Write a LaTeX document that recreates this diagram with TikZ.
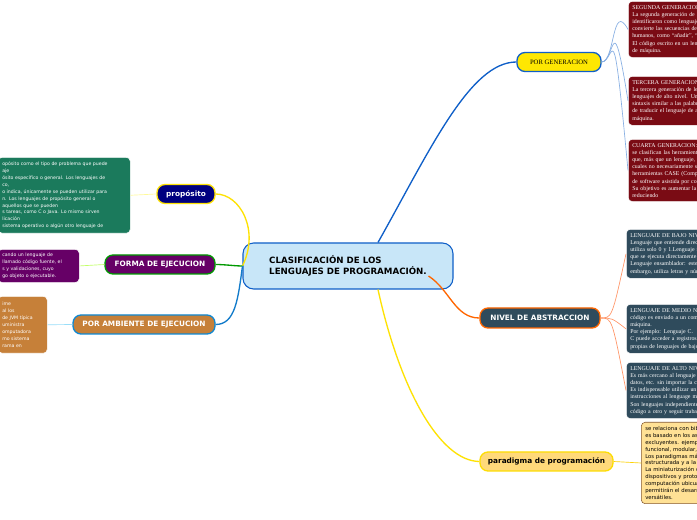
\documentclass[tikz,border=0pt]{standalone}
\usepackage{fontspec}
\setmainfont{Liberation Serif}
\setsansfont{DejaVu Sans}
\begin{document}
\begin{tikzpicture}[x=0.75pt,y=-0.75pt,
 branch/.style={rounded corners=6pt,line width=1pt,font=\sffamily\bfseries\fontsize{5.5}{6.5}\selectfont,align=center},
 leafs/.style={rounded corners=3pt,draw=white,font=\sffamily\fontsize{3.5}{5.2}\selectfont,align=left,anchor=north west,inner sep=3pt,text=white},
 leafr/.style={rounded corners=3pt,draw=white,font=\rmfamily\fontsize{4.4}{5.4}\selectfont,align=left,anchor=north west,inner sep=3pt,text=white,text width=110pt},
 conn/.style={line width=1pt},
 thin/.style={line width=0.5pt}]
\useasboundingbox (0,0) rectangle (697,520);
\clip (0,0) rectangle (697,520);
\fill[white] (0,0) rectangle (697,520);
\definecolor{cblue}{HTML}{0F5FC8}
\definecolor{gen}{HTML}{7A0B14}
\definecolor{slate}{HTML}{2F4B5C}
\definecolor{leafgreen}{HTML}{1B7A5C}
\definecolor{centerfill}{HTML}{C8E6F8}
\definecolor{parfill}{HTML}{FFD97A}
% center
\node[draw=cblue,fill=centerfill,rounded corners=8pt,line width=0.8pt,minimum width=210*0.75pt,minimum height=46*0.75pt,font=\sffamily\bfseries\fontsize{6.5}{8}\selectfont,align=left] (c) at (348,266) {CLASIFICACIÓN DE LOS\\LENGUAJES DE PROGRAMACIÓN.};
% branches
\node[branch,fill=blue!50!black,draw=yellow!85!orange,text=white,minimum width=58*0.75pt,minimum height=19*0.75pt] (p) at (186,194) {propósito};
\node[branch,fill=violet!80!black,draw=green!60!black,text=white,minimum width=110*0.75pt,minimum height=19*0.75pt] (f) at (160,264.5) {FORMA DE EJECUCION};
\node[branch,fill=brown!90!orange,draw=cyan!70!blue,text=white,minimum width=142*0.75pt,minimum height=19*0.75pt] (a) at (144,324.5) {POR AMBIENTE DE EJECUCION};
\node[branch,fill=yellow!90!orange,draw=cblue,text=black,font=\rmfamily\fontsize{5}{6}\selectfont,minimum width=84*0.75pt,minimum height=19*0.75pt] (g) at (559,62) {POR GENERACION};
\node[branch,fill=slate,draw=orange!80!red,text=white,minimum width=120*0.75pt,minimum height=20*0.75pt] (n) at (540,318) {NIVEL DE ABSTRACCION};
\node[branch,fill=parfill,draw=yellow!80!orange,text=black,minimum width=133*0.75pt,minimum height=19*0.75pt] (d) at (546.5,461.5) {paradigma de programación};
% main connectors
\draw[conn,draw=cblue] (c.north) ++(30,0) coordinate (c1) .. controls (430,150) and (470,62) .. (g.west);
\draw[conn,draw=orange!80!red] (c.east) ++(-25,10) coordinate (c2) .. controls (450,290) and (455,318) .. (n.west);
\draw[conn,draw=yellow!85!orange] (c.south) ++(30,0) coordinate (c3) .. controls (400,390) and (440,461) .. (d.west);
\draw[conn,draw=yellow!85!orange] (c.west) .. controls (260,230) and (240,194) .. (p.east);
\draw[conn,draw=green!60!black] (c.west) .. controls (235,266) and (225,264.5) .. (f.east);
\draw[conn,draw=cyan!60!blue] (c.west) .. controls (238,300) and (235,324.5) .. (a.east);
% left leaves
\node[leafs,fill=leafgreen,minimum height=76*0.75pt,text width=124*0.75pt] (l1) at (-2,157) {opósito como el tipo de problema que puede\\aje\\ósito específico o general. Los lenguajes de\\co,\\o indica, únicamente se pueden utilizar para\\n. Los lenguajes de propósito general o\\aquellos que se pueden\\s tareas, como C o Java. Lo mismo sirven\\licación\\sistema operativo o algún otro lenguaje de};
\node[leafs,fill=violet!80!black,minimum height=31*0.75pt,text width=73*0.75pt] (l2) at (-2,249) {cando un lenguaje de\\llamado código fuente, el\\s y validaciones, cuyo\\go objeto o ejecutable.};
\node[leafs,fill=brown!90!orange,minimum height=57*0.75pt,text width=41*0.75pt] (l3) at (-2,296) {ime\\al los\\ de JVM típica\\uministra\\omputadora\\mo sistema\\rama en};
\draw[thin,yellow!40] (p.west) -- (l1.east);
\draw[thin,green!40!yellow!60] (f.west) -- (l2.east);
\draw[thin,cyan!40] (a.west) -- (l3.east);
% generation leaves
\node[leafr,fill=gen] (g1) at (628,1) {SEGUNDA GENERACION:\\La segunda generación de lenguajes se\\identificaron como lenguajes ensambladores, que\\convierte las secuencias de instrucciones a términos\\humanos, como ``añadir'', ``mover''.\\ El código escrito en un lenguaje ensamblador a código\\de máquina.};
\node[leafr,fill=gen] (g2) at (628,76) {TERCERA GENERACION:\\La tercera generación de lenguajes se conocen como\\lenguajes de alto nivel. Un lenguaje con una\\sintaxis similar a las palabras humanas, capaz\\de traducir el lenguaje de alto nivel a código de\\máquina.};
\node[leafr,fill=gen] (g3) at (628,139) {CUARTA GENERACION:\\se clasifican las herramientas de programación\\que, más que un lenguaje, son aplicaciones, las\\cuales no necesariamente se programan:\\herramientas CASE (Computer Aided Software\\de software asistida por computadora).\\Su objetivo es aumentar la productividad\\reduciendo};
\foreach \t in {g1,g2,g3} \draw[thin,cblue!50] (g.east) .. controls (615,62) and (612,0) .. (\t.west);
% abstraction leaves
\node[leafr,fill=slate] (n1) at (626,229) {LENGUAJE DE BAJO NIVEL:\\Lenguaje que entiende directamente la máquina,\\utiliza solo 0 y 1.Lenguaje máquina: es un lenguaje\\que se ejecuta directamente en el procesador.\\Lenguaje ensamblador: este lenguaje, sin\\embargo, utiliza letras y números.};
\node[leafr,fill=slate] (n2) at (626,304) {LENGUAJE DE MEDIO NIVEL:\\código es enviado a un compilador para la\\máquina.\\Por ejemplo: Lenguaje C.\\C puede acceder a registros del sistema,\\propias de lenguajes de bajo nivel.};
\node[leafr,fill=slate] (n3) at (626,362) {LENGUAJE DE ALTO NIVEL:\\Es más cercano al lenguaje humano,\\datos, etc. sin importar la computadora\\Es indispensable utilizar un compilador\\instrucciones al lenguage máquina.\\Son lenguajes independientes y el\\código a otro y seguir trabajando.};
\foreach \t in {n1,n2,n3} \draw[thin,orange!60!red!60] (n.east) .. controls (612,318) and (612,318) .. (\t.west);
% paradigm leaf
\node[leafs,fill=parfill!80,draw=brown!70!black,text=black,font=\sffamily\fontsize{4}{5.2}\selectfont,text width=80pt] (d1) at (641,422) {se relaciona con bibliotecas\\es basado en los aspectos\\excluyentes. ejemplo:\\funcional, modular, orientado\\Los paradigmas más usados\\estructurada y a la programación\\La miniaturización de los\\dispositivos y protocolos de\\computación ubicua\\permitirán el desarrollo\\versátiles.};
\draw[thin,yellow!70!orange] (d.east) -- (d1.west);
\end{tikzpicture}
\end{document}
